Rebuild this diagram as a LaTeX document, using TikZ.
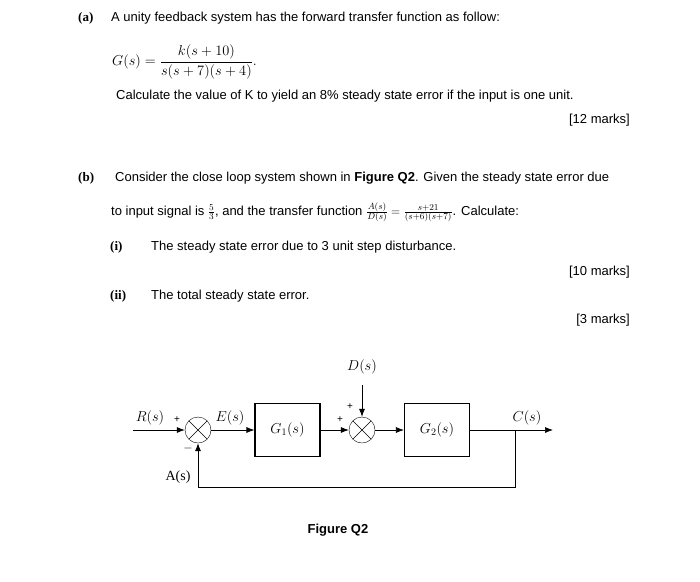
\documentclass[tikz,border=0pt]{standalone}
\usepackage{amsmath}
\usepackage{fontspec}
\setmainfont{Liberation Sans}
\newfontfamily\tms{Liberation Serif}
\usetikzlibrary{arrows.meta}
\begin{document}
\begin{tikzpicture}[x=1pt,y=-1pt,
 txt/.style={anchor=west,inner sep=0,font=\fontsize{13}{15}\selectfont},
 mk/.style={anchor=east,inner sep=0,font=\fontsize{13}{15}\selectfont},
 lab/.style={inner sep=0,font=\tms\fontsize{14}{16}\selectfont},
 blk/.style={draw,line width=1.2pt,minimum width=65,minimum height=53,font=\tms\fontsize{14}{16}\selectfont},
 sum/.style={draw,circle,minimum size=26,inner sep=0,path picture={\draw ([shift={(-9,-9)}]path picture bounding box.center)--([shift={(9,9)}]path picture bounding box.center) ([shift={(-9,9)}]path picture bounding box.center)--([shift={(9,-9)}]path picture bounding box.center);}},
 sig/.style={-{Latex[length=8,width=6]},line width=0.7pt},
 ln/.style={line width=0.7pt}]
\useasboundingbox (0,0) rectangle (700,581);
\node[txt,font=\tms\bfseries\fontsize{13}{15}\selectfont] (pa) at (78,18) {(a)};
\node[txt] (ta1) at (111,18) {A unity feedback system has the forward transfer function as follow:};
\node[txt,font=\fontsize{15}{17}\selectfont] (ta2) at (112,62) {$G(s)=\dfrac{k(s+10)}{s(s+7)(s+4)}.$};
\node[txt] (ta3) at (116,96) {Calculate the value of K to yield an 8\% steady state error if the input is one unit.};
\node[mk] (m1) at (630,120) {[12 marks]};
\node[txt,font=\tms\bfseries\fontsize{13}{15}\selectfont] (pb) at (78,178) {(b)};
\node[txt] (tb1) at (115,178) {Consider the close loop system shown in \textbf{Figure Q2}. Given the steady state error due};
\node[txt] (tb2) at (111,212) {to input signal is $\frac{5}{3}$, and the transfer function $\frac{A(s)}{D(s)}=\frac{s+21}{(s+6)(s+7)}$. Calculate:};
\node[txt,font=\tms\bfseries\fontsize{13}{15}\selectfont] (pi) at (110,247) {(i)};
\node[txt] (ti) at (151,247) {The steady state error due to 3 unit step disturbance.};
\node[mk] (m2) at (630,272) {[10 marks]};
\node[txt,font=\tms\bfseries\fontsize{13}{15}\selectfont] (pii) at (110,296) {(ii)};
\node[txt] (tii) at (151,296) {The total steady state error.};
\node[mk] (m3) at (630,320) {[3 marks]};
\node[inner sep=0,font=\bfseries\fontsize{13}{15}\selectfont] (fig) at (338,530) {Figure Q2};
% diagram
\coordinate (in) at (133,430);
\node[sum] (s1) at (198,430) {};
\node[blk] (g1) at (287.5,430) {$G_1(s)$};
\node[sum] (s2) at (362,430) {};
\node[blk] (g2) at (437,430) {$G_2(s)$};
\coordinate (tap) at (515,430);
\coordinate (out) at (553,430);
\coordinate (dtop) at (362,385);
\coordinate (fb) at (515,487);
\coordinate (fb2) at (198,487);
\draw[sig] (in) -- (s1);
\draw[sig] (s1) -- (g1);
\draw[sig] (g1) -- (s2);
\draw[sig] (s2) -- (g2);
\draw[sig] (g2) -- (out);
\draw[sig] (dtop) -- (s2);
\draw[sig] (tap) -- (fb) -- (fb2) -- (s1);
\node[lab] (R) at (150,418) {$R(s)$};
\node[lab] (E) at (230,418) {$E(s)$};
\node[lab] (C) at (527,418) {$C(s)$};
\node[lab] (D) at (362,367) {$D(s)$};
\node[lab] (A) at (178,477) {A(s)};
\node[lab,font=\fontsize{10}{10}\selectfont] (p1) at (177,420) {+};
\node[lab,font=\fontsize{12}{10}\selectfont] (n1) at (188,448) {$-$};
\node[lab,font=\fontsize{10}{10}\selectfont] (p2) at (350,407) {+};
\node[lab,font=\fontsize{10}{10}\selectfont] (p3) at (340,420) {+};
\end{tikzpicture}
\end{document}
